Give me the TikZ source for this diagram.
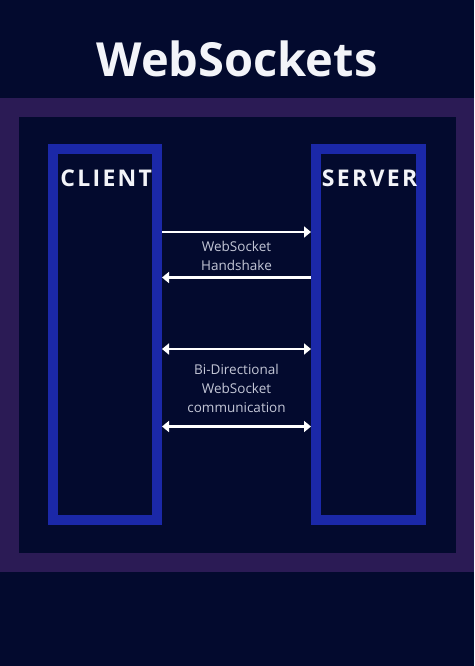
\documentclass[tikz,border=0pt]{standalone}
\usepackage{fontspec}
\setmainfont{Open Sans}
\usetikzlibrary{arrows.meta}
\definecolor{bgnavy}{HTML}{030A2E}
\definecolor{bandpurple}{HTML}{2B1B55}
\definecolor{boxblue}{HTML}{1B28A8}
\definecolor{titlewhite}{HTML}{F3F4F9}
\definecolor{labelgray}{HTML}{C3C6D6}
\begin{document}
\begin{tikzpicture}[x=1pt,y=-1pt,
  lane/.style={draw=boxblue,line width=10pt,rectangle,inner sep=0pt,minimum height=371pt,fill=bgnavy},
  lanetitle/.style={text=titlewhite,font=\bfseries\fontsize{23}{26}\selectfont\addfontfeatures{LetterSpace=10},inner sep=0pt},
  msg/.style={draw=white,line width=2.8pt},
  tip/.style={-{Triangle[length=7pt,width=11pt]}},
  bitip/.style={{Triangle[length=7pt,width=11pt]}-{Triangle[length=7pt,width=11pt]}},
  msglabel/.style={text=labelgray,font=\fontsize{13.5}{19}\selectfont,align=center,inner sep=0pt}]
\useasboundingbox (0,0) rectangle (474,666);
\fill[bgnavy] (0,0) rectangle (474,666);
\fill[bandpurple] (0,98) rectangle (474,572);
\fill[bgnavy] (19,117) rectangle (456,553);
\node[text=titlewhite,font=\bfseries\fontsize{47}{52}\selectfont,anchor=base,inner sep=0pt] (title) at (237,77) {WebSockets};
\node[lane,minimum width=104pt] (client) at (105,334.5) {};
\node[lane,minimum width=105pt] (server) at (368.5,334.5) {};
\node[lanetitle,anchor=base] (clientlabel) at (106.2,186) {CLIENT};
\node[lanetitle,anchor=base] (serverlabel) at (369.6,186) {SERVER};
\draw[msg,tip] (client.east |- 0,232) -- (server.west |- 0,232);
\draw[msg,tip] (server.west |- 0,277.5) -- (client.east |- 0,277.5);
\draw[msg,bitip] (client.east |- 0,349) -- (server.west |- 0,349);
\draw[msg,bitip] (client.east |- 0,426.5) -- (server.west |- 0,426.5);
\node[msglabel] (hs) at (236.5,255.5) {WebSocket\\Handshake};
\node[msglabel] (bidir) at (236.5,388) {Bi-Directional\\WebSocket\\communication};
\end{tikzpicture}
\end{document}
